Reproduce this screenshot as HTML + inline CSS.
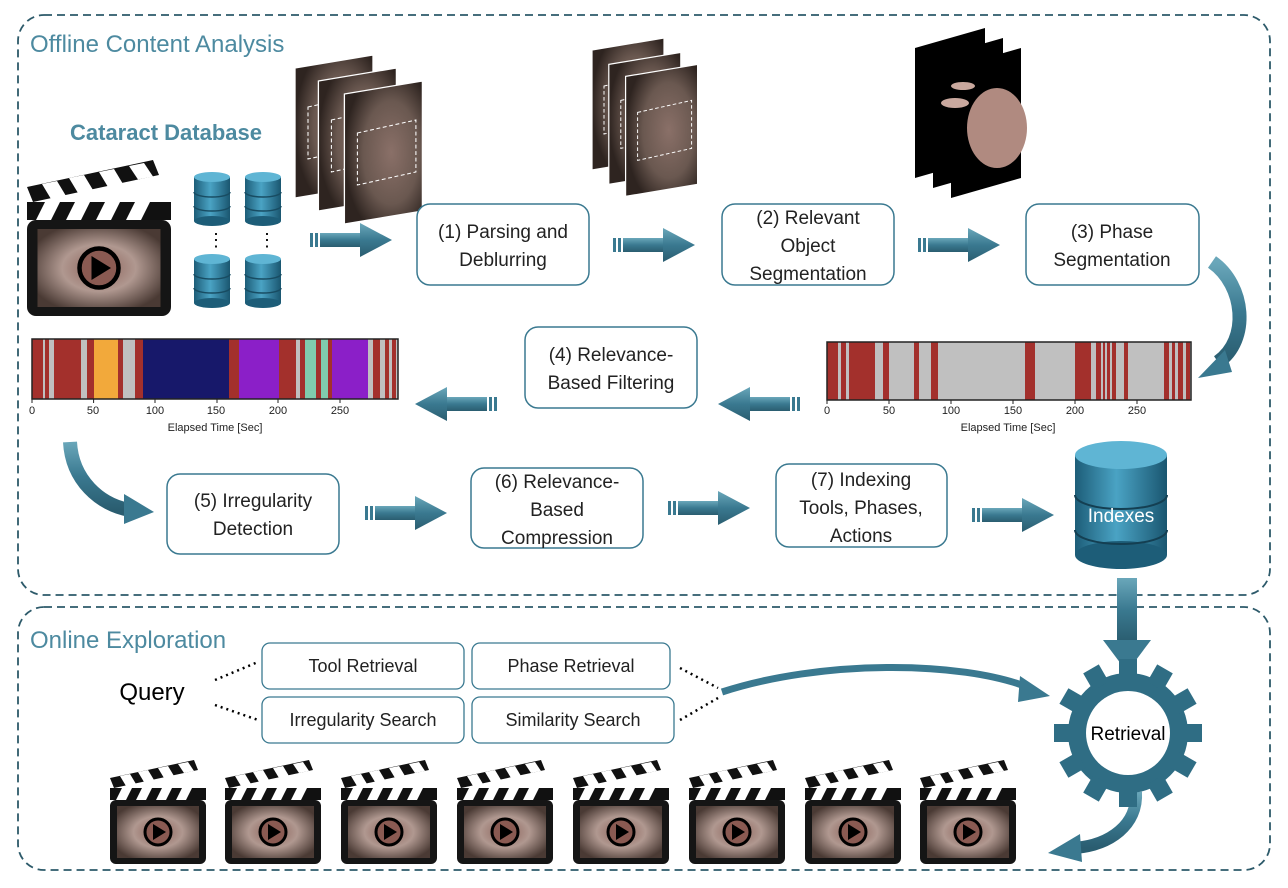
<!DOCTYPE html>
<html><head><meta charset="utf-8"><style>
body{margin:0;background:#fff}
svg{display:block;font-family:"Liberation Sans",sans-serif}
</style></head><body>
<svg width="1288" height="888" viewBox="0 0 1288 888" xmlns="http://www.w3.org/2000/svg">
<defs>
<linearGradient id="ag" x1="0" y1="0" x2="0" y2="1"><stop offset="0" stop-color="#6aa7ba"/><stop offset="0.5" stop-color="#3a7990"/><stop offset="1" stop-color="#2a5d70"/></linearGradient>
<linearGradient id="cyl" x1="0" y1="0" x2="1" y2="0"><stop offset="0" stop-color="#1d5d78"/><stop offset="0.45" stop-color="#4aa3c4"/><stop offset="1" stop-color="#1a5670"/></linearGradient>
<radialGradient id="eye" cx="0.5" cy="0.5" r="0.6"><stop offset="0" stop-color="#8a6058"/><stop offset="0.5" stop-color="#b09890"/><stop offset="1" stop-color="#4a3a34"/></radialGradient>
<radialGradient id="ph" cx="0.6" cy="0.5" r="0.6"><stop offset="0" stop-color="#8a7068"/><stop offset="0.6" stop-color="#6a5850"/><stop offset="1" stop-color="#2e2420"/></radialGradient>
<g id="arr"><rect x="0" y="10" width="3" height="14" fill="#3a7990"/><rect x="5" y="10" width="3" height="14" fill="#3a7990"/><rect x="10" y="10" width="44" height="14" fill="url(#ag)"/><polygon points="50,0 82,17 50,34" fill="url(#ag)"/></g>
<g id="db"><rect x="0" y="5" width="36" height="44" fill="url(#cyl)"/><ellipse cx="18" cy="49" rx="18" ry="5" fill="#1d5d78"/><ellipse cx="18" cy="5" rx="18" ry="5" fill="#5fb5d4"/><path d="M0,20 a18,5 0 0 0 36,0 M0,34 a18,5 0 0 0 36,0" stroke="#184c62" stroke-width="1.5" fill="none"/></g>
<g id="clap">
<polygon points="2,18 86,0 90,10 6,28" fill="#111"/>
<polygon points="12,16 22,14 28,24 18,26" fill="#fff"/>
<polygon points="30,12 40,10 46,20 36,22" fill="#fff"/><polygon points="50,8 60,6 66,16 56,18" fill="#fff"/><polygon points="70,4 80,2 86,11 76,13" fill="#fff"/>
<rect x="2" y="28" width="96" height="12" fill="#111"/>
<polygon points="14,28 24,28 18,40 8,40" fill="#fff"/><polygon points="34,28 44,28 38,40 28,40" fill="#fff"/><polygon points="54,28 64,28 58,40 48,40" fill="#fff"/><polygon points="74,28 84,28 78,40 68,40" fill="#fff"/>
<rect x="2" y="40" width="96" height="64" rx="6" fill="#151515"/>
<rect x="9" y="46" width="82" height="52" fill="url(#eye)"/>
<circle cx="50" cy="72" r="13" fill="#8a5a52" stroke="#000" stroke-width="3"/>
<polygon points="45,64 58,72 45,80" fill="#000"/>
</g>
<g id="frame"><polygon points="0,10 60,0 60,100 0,110" fill="url(#ph)" stroke="#fff" stroke-width="1"/><polygon points="10,40 55,30 55,70 10,80" fill="none" stroke="#fff" stroke-width="0.8" stroke-dasharray="3,2"/></g>
</defs>

<rect x="18" y="15" width="1252" height="580" rx="26" fill="none" stroke="#2d5a6a" stroke-width="1.8" stroke-dasharray="8,5"/>
<rect x="18" y="607" width="1252" height="263" rx="26" fill="none" stroke="#2d5a6a" stroke-width="1.8" stroke-dasharray="8,5"/>
<text x="30" y="52" font-size="24" fill="#4d8aa0">Offline Content Analysis</text>
<text x="30" y="648" font-size="24" fill="#4d8aa0">Online Exploration</text>
<text x="70" y="140" font-size="22" fill="#4d8aa0" font-weight="bold">Cataract Database</text>

<g transform="translate(24,160) scale(1.5)"><use href="#clap"/></g>
<use href="#db" x="194" y="172"/><use href="#db" x="245" y="172"/>
<use href="#db" x="194" y="254"/><use href="#db" x="245" y="254"/>
<text x="207" y="246" font-size="18">⋮</text><text x="258" y="246" font-size="18">⋮</text>

<g transform="translate(295,55)"><use href="#frame" transform="scale(1.3)"/><use href="#frame" x="18" y="10" transform="scale(1.3)"/><use href="#frame" x="38" y="20" transform="scale(1.3)"/></g>
<g transform="translate(592,38)"><use href="#frame" transform="scale(1.2)"/><use href="#frame" x="14" y="12" transform="scale(1.2)"/><use href="#frame" x="28" y="22" transform="scale(1.2)"/></g>
<g transform="translate(915,28)"><polygon points="0,20 70,0 70,130 0,150" fill="#000"/><polygon points="18,30 88,10 88,140 18,160" fill="#000"/><polygon points="36,40 106,20 106,150 36,170" fill="#000"/><ellipse cx="82" cy="100" rx="30" ry="40" fill="#b08a80"/><ellipse cx="40" cy="75" rx="14" ry="5" fill="#c9a89e"/><ellipse cx="48" cy="58" rx="12" ry="4" fill="#c9a89e"/></g>

<g font-size="19" fill="#222" text-anchor="middle">
<rect x="417" y="204" width="172" height="81" rx="13" fill="#fff" stroke="#3a7990" stroke-width="1.5"/><text x="503" y="238">(1) Parsing and</text><text x="503" y="266">Deblurring</text>
<rect x="722" y="204" width="172" height="81" rx="13" fill="#fff" stroke="#3a7990" stroke-width="1.5"/><text x="808" y="224">(2) Relevant</text><text x="808" y="252">Object</text><text x="808" y="280">Segmentation</text>
<rect x="1026" y="204" width="173" height="81" rx="13" fill="#fff" stroke="#3a7990" stroke-width="1.5"/><text x="1112" y="238">(3) Phase</text><text x="1112" y="266">Segmentation</text>
<rect x="525" y="327" width="172" height="81" rx="13" fill="#fff" stroke="#3a7990" stroke-width="1.5"/><text x="611" y="361">(4) Relevance-</text><text x="611" y="389">Based Filtering</text>
<rect x="167" y="474" width="172" height="80" rx="13" fill="#fff" stroke="#3a7990" stroke-width="1.5"/><text x="253" y="507">(5) Irregularity</text><text x="253" y="535">Detection</text>
<rect x="471" y="468" width="172" height="80" rx="13" fill="#fff" stroke="#3a7990" stroke-width="1.5"/><text x="557" y="488">(6) Relevance-</text><text x="557" y="516">Based</text><text x="557" y="544">Compression</text>
<rect x="776" y="464" width="171" height="83" rx="13" fill="#fff" stroke="#3a7990" stroke-width="1.5"/><text x="861" y="486">(7) Indexing</text><text x="861" y="514">Tools, Phases,</text><text x="861" y="542">Actions</text>
</g>
<g font-size="18" fill="#222" text-anchor="middle">
<rect x="262" y="643" width="202" height="46" rx="8" fill="#fff" stroke="#3a7990" stroke-width="1.3"/><text x="363" y="672">Tool Retrieval</text>
<rect x="472" y="643" width="198" height="46" rx="8" fill="#fff" stroke="#3a7990" stroke-width="1.3"/><text x="571" y="672">Phase Retrieval</text>
<rect x="262" y="697" width="202" height="46" rx="8" fill="#fff" stroke="#3a7990" stroke-width="1.3"/><text x="363" y="726">Irregularity Search</text>
<rect x="472" y="697" width="202" height="46" rx="8" fill="#fff" stroke="#3a7990" stroke-width="1.3"/><text x="573" y="726">Similarity Search</text>
</g>
<text x="152" y="700" font-size="24" text-anchor="middle" fill="#000">Query</text>
<g stroke="#000" stroke-width="2.5" stroke-dasharray="2,4"><line x1="215" y1="680" x2="258" y2="662"/><line x1="215" y1="705" x2="258" y2="720"/><line x1="680" y1="668" x2="718" y2="688"/><line x1="680" y1="720" x2="718" y2="698"/></g>
<path d="M722,692 C820,660 960,660 1030,688" stroke="#3a7990" stroke-width="7" fill="none"/>
<polygon points="1020,676 1050,696 1018,702" fill="#3a7990"/>

<use href="#arr" x="310" y="223"/><use href="#arr" x="613" y="228"/><use href="#arr" x="918" y="228"/>
<use href="#arr" transform="translate(800,387) scale(-1,1)"/><use href="#arr" transform="translate(497,387) scale(-1,1)"/>
<use href="#arr" x="365" y="496"/><use href="#arr" x="668" y="491"/><use href="#arr" x="972" y="498"/>
<path d="M1212,262 C1245,285 1250,340 1218,362" stroke="url(#ag)" stroke-width="14" fill="none"/><polygon points="1225,350 1198,378 1232,372" fill="#3a7990"/>
<path d="M70,442 C72,480 100,505 130,510" stroke="url(#ag)" stroke-width="14" fill="none"/><polygon points="124,494 154,512 124,524" fill="#3a7990"/>
<path d="M1136,792 C1138,825 1110,845 1075,848" stroke="url(#ag)" stroke-width="12" fill="none"/><polygon points="1080,834 1048,853 1082,862" fill="#3a7990"/>
<rect x="1117" y="578" width="20" height="64" fill="url(#ag)"/><polygon points="1103,640 1151,640 1127,672" fill="#3a7990"/>

<g><rect x="1075" y="455" width="92" height="100" fill="url(#cyl)"/><ellipse cx="1121" cy="555" rx="46" ry="14" fill="#1d5d78"/><path d="M1075,495 a46,14 0 0 0 92,0 M1075,530 a46,14 0 0 0 92,0" stroke="#143f52" stroke-width="2" fill="none"/><ellipse cx="1121" cy="455" rx="46" ry="14" fill="#5fb5d4"/><text x="1121" y="522" font-size="19" fill="#fff" text-anchor="middle">Indexes</text></g>

<g transform="translate(1128,733)">
<g fill="#2f6d84">
<circle r="60"/>
<rect x="-9" y="-74" width="18" height="20" transform="rotate(0)"/><rect x="-9" y="-74" width="18" height="20" transform="rotate(30)"/><rect x="-9" y="-74" width="18" height="20" transform="rotate(60)"/><rect x="-9" y="-74" width="18" height="20" transform="rotate(90)"/><rect x="-9" y="-74" width="18" height="20" transform="rotate(120)"/><rect x="-9" y="-74" width="18" height="20" transform="rotate(150)"/><rect x="-9" y="-74" width="18" height="20" transform="rotate(180)"/><rect x="-9" y="-74" width="18" height="20" transform="rotate(210)"/><rect x="-9" y="-74" width="18" height="20" transform="rotate(240)"/><rect x="-9" y="-74" width="18" height="20" transform="rotate(270)"/><rect x="-9" y="-74" width="18" height="20" transform="rotate(300)"/><rect x="-9" y="-74" width="18" height="20" transform="rotate(330)"/>
</g>
<circle r="42" fill="#fff"/>
<text y="7" font-size="19" text-anchor="middle" fill="#000">Retrieval</text>
</g>

<use href="#clap" x="108" y="760"/><use href="#clap" x="223" y="760"/><use href="#clap" x="339" y="760"/><use href="#clap" x="455" y="760"/><use href="#clap" x="571" y="760"/><use href="#clap" x="687" y="760"/><use href="#clap" x="803" y="760"/><use href="#clap" x="918" y="760"/>

<g transform="translate(32,339)">
<rect width="366" height="60" fill="#c0c0c0"/>
<g fill="#a3302c">
<rect x="0" width="11" height="60"/><rect x="13" width="4" height="60"/><rect x="22" width="27" height="60"/><rect x="55" width="7" height="60"/><rect x="86" width="5" height="60"/><rect x="103" width="8" height="60"/><rect x="197" width="10" height="60"/><rect x="246" width="18" height="60"/><rect x="268" width="5" height="60"/><rect x="284" width="5" height="60"/><rect x="296" width="4" height="60"/><rect x="341" width="7" height="60"/><rect x="353" width="4" height="60"/><rect x="360" width="4" height="60"/>
</g>
<rect x="62" width="24" height="60" fill="#f2a93b"/>
<rect x="111" width="86" height="60" fill="#17186a"/>
<rect x="207" width="40" height="60" fill="#8b1fc8"/>
<rect x="273" width="11" height="60" fill="#80ccae"/><rect x="289" width="7" height="60" fill="#80ccae"/>
<rect x="300" width="36" height="60" fill="#8b1fc8"/>
<rect width="366" height="60" fill="none" stroke="#222" stroke-width="1.5"/>
<g stroke="#222"><line x1="0" y1="60" x2="0" y2="64"/><line x1="61.6" y1="60" x2="61.6" y2="64"/><line x1="123" y1="60" x2="123" y2="64"/><line x1="185" y1="60" x2="185" y2="64"/><line x1="246" y1="60" x2="246" y2="64"/><line x1="308" y1="60" x2="308" y2="64"/></g>
</g>
<g font-size="11" fill="#222" text-anchor="middle">
<text x="32" y="414">0</text><text x="93" y="414">50</text><text x="155" y="414">100</text><text x="216" y="414">150</text><text x="278" y="414">200</text><text x="340" y="414">250</text>
<text x="215" y="431">Elapsed Time [Sec]</text>
<text x="827" y="414">0</text><text x="889" y="414">50</text><text x="951" y="414">100</text><text x="1013" y="414">150</text><text x="1075" y="414">200</text><text x="1137" y="414">250</text>
<text x="1008" y="431">Elapsed Time [Sec]</text>
</g>
<g transform="translate(827,342)">
<rect width="364" height="58" fill="#c0c0c0"/>
<g fill="#a3302c">
<rect x="0" width="11" height="58"/><rect x="14" width="5" height="58"/><rect x="22" width="26" height="58"/><rect x="56" width="6" height="58"/><rect x="87" width="5" height="58"/><rect x="104" width="7" height="58"/><rect x="198" width="10" height="58"/><rect x="248" width="16" height="58"/><rect x="269" width="5" height="58"/><rect x="276" width="2" height="58"/><rect x="280" width="3" height="58"/><rect x="285" width="4" height="58"/><rect x="297" width="4" height="58"/><rect x="337" width="5" height="58"/><rect x="345" width="3" height="58"/><rect x="351" width="5" height="58"/><rect x="359" width="4" height="58"/>
</g>
<rect width="364" height="58" fill="none" stroke="#222" stroke-width="1.5"/>
<g stroke="#222"><line x1="0" y1="58" x2="0" y2="62"/><line x1="62" y1="58" x2="62" y2="62"/><line x1="124" y1="58" x2="124" y2="62"/><line x1="186" y1="58" x2="186" y2="62"/><line x1="248" y1="58" x2="248" y2="62"/><line x1="310" y1="58" x2="310" y2="62"/></g>
</g>
</svg>
</body></html>
